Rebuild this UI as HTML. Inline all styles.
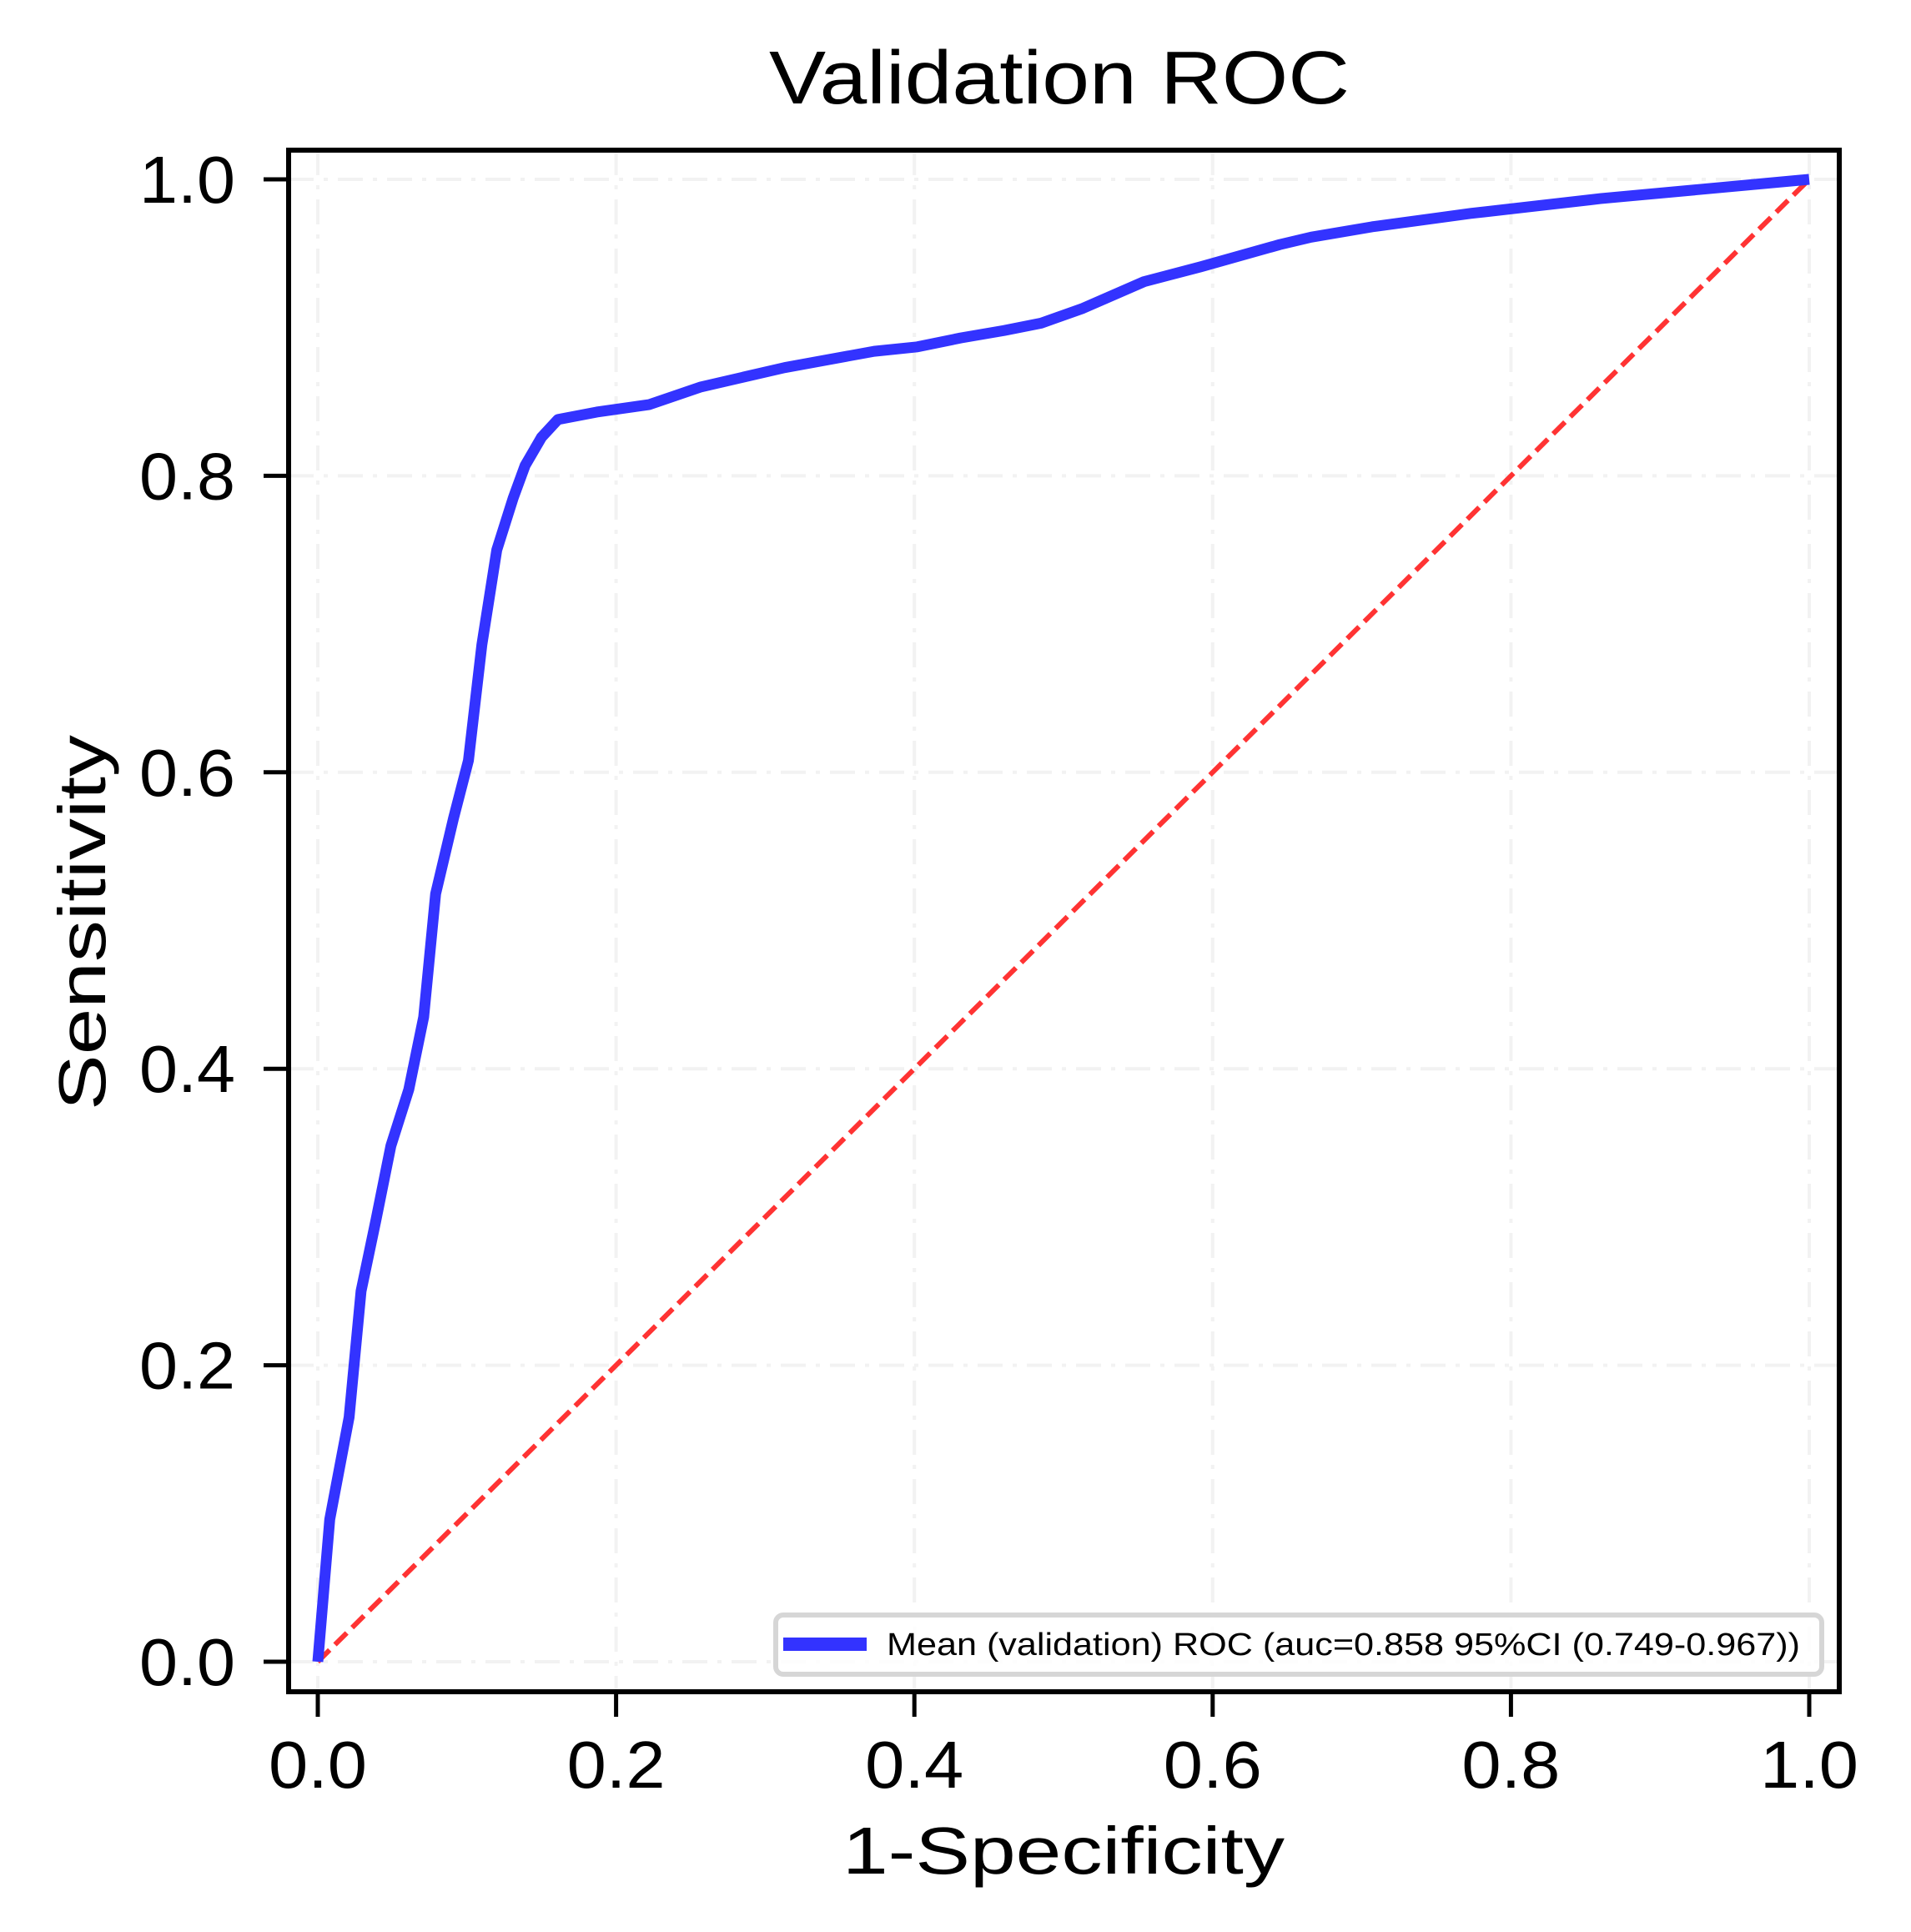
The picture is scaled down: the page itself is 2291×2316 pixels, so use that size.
<!DOCTYPE html>
<html><head><meta charset="utf-8"><style>
html,body{margin:0;padding:0;background:#fff;}
svg{display:block;}
text{font-family:"WenQuanYi Zen Hei","Liberation Sans",sans-serif;fill:#000;}
</style></head><body>
<svg id="chart" width="2291" height="2316" viewBox="0 0 2291 2316" xmlns="http://www.w3.org/2000/svg">
<rect width="2291" height="2316" fill="#fff"/>
<g id="grid"></g>
<g id="series"></g>
<rect x="346" y="180" width="1859" height="1848" fill="none" stroke="#000" stroke-width="6"/>
<g id="ticks"></g>
<text x="1270" y="124" font-size="90" text-anchor="middle" textLength="696" lengthAdjust="spacingAndGlyphs">Validation ROC</text>
<text x="1275" y="2246" font-size="80" text-anchor="middle" textLength="530" lengthAdjust="spacingAndGlyphs">1-Specificity</text>
<text x="0" y="0" font-size="80" text-anchor="middle" textLength="450" lengthAdjust="spacingAndGlyphs" transform="translate(126,1106) rotate(-90)">Sensitivity</text>
<g>
<rect x="930" y="1936" width="1254" height="71" rx="9" fill="#fff" fill-opacity="0.8" stroke="#d6d6d6" stroke-width="6"/>
<line x1="939" y1="1971" x2="1039" y2="1971" stroke="#3333ff" stroke-width="16"/>
<text x="1063" y="1984" font-size="38" textLength="1095" lengthAdjust="spacingAndGlyphs">Mean (validation) ROC (auc=0.858 95%CI (0.749-0.967))</text>
</g>
</svg>
<script>
const fprValues=[0,0.008,0.021,0.029,0.039,0.049,0.061,0.071,0.079,0.091,0.101,0.110,0.120,0.131,0.139,0.150,0.161,0.187,0.222,0.257,0.313,0.373,0.402,0.431,0.460,0.485,0.513,0.554,0.592,0.645,0.666,0.707,0.773,0.860,1.0];
const tprValues=[0,0.096,0.165,0.250,0.298,0.348,0.386,0.435,0.518,0.569,0.608,0.686,0.750,0.785,0.807,0.826,0.838,0.843,0.848,0.860,0.873,0.884,0.887,0.893,0.898,0.903,0.913,0.931,0.941,0.956,0.961,0.968,0.977,0.987,1.0];
const chanceX=[0,1];
const chanceY=[0,1];
const xTicks=[0,0.2,0.4,0.6,0.8,1.0];
const xTickLabels=["0.0","0.2","0.4","0.6","0.8","1.0"];
const yTicks=[0,0.2,0.4,0.6,0.8,1.0];
const yTickLabels=["0.0","0.2","0.4","0.6","0.8","1.0"];

const NS="http://www.w3.org/2000/svg";
const X0=381,X1=2169,Y0=1992,Y1=215;
function sx(v){return X0+(X1-X0)*v;}
function sy(v){return Y0-(Y0-Y1)*v;}
function mk(tag,attrs,parent){const e=document.createElementNS(NS,tag);for(const k in attrs)e.setAttribute(k,attrs[k]);parent.appendChild(e);return e;}
const grid=document.getElementById('grid'),ticks=document.getElementById('ticks'),series=document.getElementById('series');
xTicks.forEach((v,i)=>{
  const g=mk('line',{x1:sx(v),x2:sx(v),y1:180,y2:2028,stroke:'#f2f2f2','stroke-width':4,'stroke-dasharray':'30 12 5 12'},grid);
  
  
  const t=mk('line',{x1:sx(v),x2:sx(v),y1:2028,y2:2058,stroke:'#000','stroke-width':5},ticks);
  
  
  const l=mk('text',{x:sx(v),y:2143,'font-size':80,'text-anchor':'middle',textLength:118,lengthAdjust:'spacingAndGlyphs'},ticks);
  l.textContent=xTickLabels[i];
  
  
});
yTicks.forEach((v,i)=>{
  const g=mk('line',{x1:346,x2:2205,y1:sy(v),y2:sy(v),stroke:'#f2f2f2','stroke-width':4,'stroke-dasharray':'30 12 5 12'},grid);
  
  
  const t=mk('line',{x1:316,x2:346,y1:sy(v),y2:sy(v),stroke:'#000','stroke-width':5},ticks);
  
  
  const l=mk('text',{x:282,y:sy(v)+28,'font-size':80,'text-anchor':'end',textLength:115,lengthAdjust:'spacingAndGlyphs'},ticks);
  l.textContent=yTickLabels[i];
  
  
});
const chance=mk('line',{x1:sx(chanceX[0]),y1:sy(chanceY[0]),x2:sx(chanceX[1]),y2:sy(chanceY[1]),stroke:'#ff3333','stroke-width':6,'stroke-dasharray':'20 9'},series);


const pts=fprValues.map((v,i)=>sx(v)+','+sy(tprValues[i])).join(' ');
const roc=mk('polyline',{points:pts,fill:'none',stroke:'#3333ff','stroke-width':13,'stroke-linejoin':'round'},series);


</script>
</body></html>
